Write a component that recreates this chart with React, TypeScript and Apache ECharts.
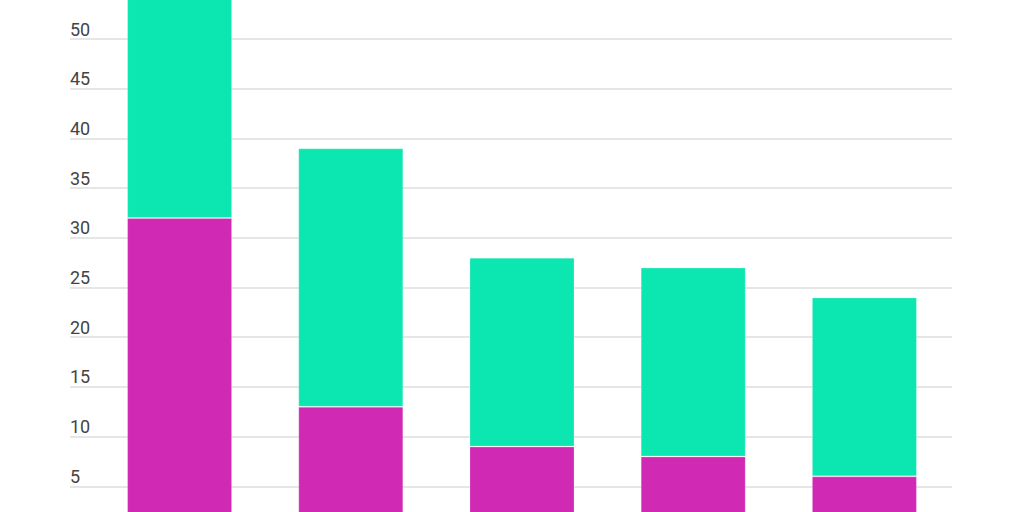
import React, { useEffect, useRef } from "react";
import * as echarts from "echarts";

const categories = ["A", "B", "C", "D", "E"];
const magentaValues = [32, 13, 9, 8, 6];
const greenValues = [26, 26, 19, 19, 18];
const yTicks = [0, 5, 10, 15, 20, 25, 30, 35, 40, 45, 50, 55, 60];
const visibleTickMax = 50;

export default function App() {
  const ref = useRef<HTMLDivElement>(null);
  useEffect(() => {
    if (!ref.current) return;
    const chart = echarts.init(ref.current, undefined, { renderer: "svg" });
    const yMin = yTicks[0];
    const yMax = yTicks[yTicks.length - 1];
    chart.setOption({
      animation: false,
      grid: [
        { left: 94, right: 74, top: 9.6, bottom: 14, containLabel: false, outerBoundsMode: "none" },
        { left: 70, right: 72, top: 9.6, bottom: 14, containLabel: false, outerBoundsMode: "none" },
      ],
      xAxis: [
        {
          type: "category",
          gridIndex: 0,
          data: categories,
          axisLine: { show: false },
          axisTick: { show: false },
          axisLabel: { show: false },
        },
        {
          type: "value",
          gridIndex: 1,
          show: false,
          min: 0,
          max: 1,
        },
      ],
      yAxis: [
        {
          type: "value",
          gridIndex: 0,
          min: yMin,
          max: yMax,
          interval: 5,
          axisLine: { show: false },
          axisTick: { show: false },
          axisLabel: { show: false },
          splitLine: { show: false },
        },
        {
          type: "value",
          gridIndex: 1,
          min: yMin,
          max: yMax,
          interval: 5,
          axisLine: { show: false },
          axisTick: { show: false },
          splitLine: { show: true, lineStyle: { color: "#dedede", width: 1.5 } },
          axisLabel: {
            inside: true,
            margin: 0,
            align: "left",
            verticalAlign: "bottom",
            color: "#444444",
            fontFamily: "Roboto",
            fontSize: 18,
            padding: [0, 0, 1, 0],
            formatter: (v: number) => (v === 0 || v > visibleTickMax ? "" : String(v)),
          },
          z: 0,
        },
      ],
      series: [
        {
          type: "bar",
          xAxisIndex: 0,
          yAxisIndex: 0,
          stack: "total",
          data: magentaValues,
          barWidth: 105,
          itemStyle: { color: "#d02ab4", borderColor: "rgba(255,255,255,0.2)", borderWidth: 1 },
          z: 3,
        },
        {
          type: "bar",
          xAxisIndex: 0,
          yAxisIndex: 0,
          stack: "total",
          data: greenValues,
          barWidth: 105,
          itemStyle: { color: "#0ce6b0", borderColor: "rgba(255,255,255,0.2)", borderWidth: 1 },
          z: 3,
        },
      ],
    });
    return () => chart.dispose();
  }, []);
  return (
    <div
      style={{
        position: "fixed",
        top: 0,
        left: 0,
        width: 1024,
        height: 512,
        overflow: "hidden",
        background: "#ffffff",
      }}
    >
      <div
        ref={ref}
        style={{ position: "absolute", top: -70, left: 0, width: 1024, height: 620 }}
      />
    </div>
  );
}
